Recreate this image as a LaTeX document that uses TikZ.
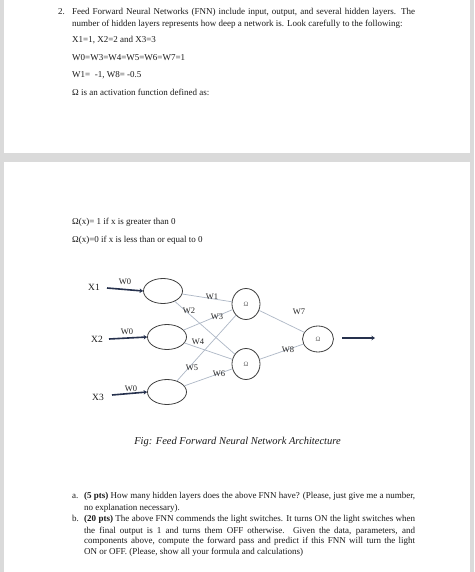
\documentclass[tikz,border=0pt]{standalone}
\usepackage{fontspec}
\setmainfont{Liberation Serif}
\usetikzlibrary{arrows.meta,shapes.geometric}
\definecolor{pagegrey}{HTML}{DADADA}
\definecolor{lineblue}{HTML}{AEB8C6}
\definecolor{navy}{HTML}{26314D}
\definecolor{ink}{HTML}{1A1A1A}
\begin{document}
\begin{tikzpicture}[x=1pt,y=-1pt,
  txt/.style={anchor=base west, inner sep=0pt, font=\fontsize{9}{12}\selectfont, text=ink},
  conn/.style={draw=lineblue, line width=0.7pt},
  inarr/.style={draw=navy, line width=1.6pt, -{Stealth[length=3.5pt,width=4.5pt]}},
  inode/.style={draw=black!75, line width=0.8pt, ellipse, minimum width=39pt, minimum height=25pt, inner sep=0pt},
  hnode/.style={draw=black!75, line width=0.8pt, ellipse, minimum width=28pt, minimum height=31pt, inner sep=0pt, font=\fontsize{6.5}{6.5}\selectfont, text=black!60},
  onode/.style={hnode, minimum width=31pt, minimum height=26pt},
  wlab/.style={inner sep=0pt, font=\fontsize{8.5}{8.5}\selectfont, text=black!85},
  xlab/.style={inner sep=0pt, font=\fontsize{9.5}{9.5}\selectfont, text=ink},
]
\useasboundingbox (0,0) rectangle (474,572);
\fill[pagegrey] (0,0) rectangle (474,572);
\fill[white] (4,0) rectangle (470,153);
\fill[white] (4,162) rectangle (470,572);

% top text
\node[txt] (n2) at (58,14.3) {2.};
\node[txt] (p1) at (72,14.3) {\makebox[343pt][s]{Feed Forward Neural Networks (FNN) include input, output, and several hidden layers. The}};
\node[txt] (p2) at (72,26.3) {number of hidden layers represents how deep a network is. Look carefully to the following:};
\node[txt] (p3) at (72,42.3) {X1=1, X2=2 and X3=3};
\node[txt] (p4) at (72,60.3) {W0=W3=W4=W5=W6=W7=1};
\node[txt] (p5) at (72,77.7) {W1=\ \ -1, W8= -0.5};
\node[txt] (p6) at (72,95.3) {Ω is an activation function defined as:};

\node[txt] (q1) at (72,224) {Ω(x)= 1 if x is greater than 0};
\node[txt] (q2) at (72,242.3) {Ω(x)=0 if x is less than or equal to 0};

% network
\node[inode] (e1) at (163,291) {};
\node[inode] (e2) at (167,337) {};
\node[inode] (e3) at (167,392) {};
\node[hnode] (h1) at (246,304) {Ω};
\node[hnode] (h2) at (246,364) {Ω};
\node[onode] (o) at (318,339) {Ω};

\node[xlab] (x1) at (94,287) {X1};
\node[xlab] (x2) at (97,339) {X2};
\node[xlab] (x3) at (98,397) {X3};
\coordinate (a1) at (107,288);
\coordinate (a2) at (109,339);
\coordinate (a3) at (112,395);
\draw[inarr] (a1) -- (e1.west);
\draw[inarr] (a2) -- (e2.west);
\draw[inarr] (a3) -- (e3.west);
\node[wlab] (w01) at (125,282) {W0};
\node[wlab] (w02) at (127,332) {W0};
\node[wlab] (w03) at (131,389) {W0};

\draw[conn] (e1) -- (h1);
\draw[conn] (e1) -- (h2);
\draw[conn] (e2) -- (h1);
\draw[conn] (e2) -- (h2);
\draw[conn] (e3) -- (h1);
\draw[conn] (e3) -- (h2);
\draw[conn] (h1) -- (o);
\draw[conn] (h2) -- (o);
\coordinate (ostart) at (342,338);
\coordinate (oend) at (375,338);
\draw[inarr] (ostart) -- (oend);

\node[wlab] (w1) at (212,297) {W1};
\node[wlab] (w2) at (189,311) {W2};
\node[wlab] (w3) at (217,317) {W3};
\node[wlab] (w4) at (198,342) {W4};
\node[wlab] (w5) at (192,368) {W5};
\node[wlab] (w6) at (219,374) {W6};
\node[wlab] (w7) at (299,312) {W7};
\node[wlab] (w8) at (288,350) {W8};

% caption
\node[anchor=base, inner sep=0pt, font=\fontsize{10.5}{12}\itshape, text=ink] (cap) at (237.5,444.5) {Fig: Feed Forward Neural Network Architecture};

% questions
\node[txt] (la) at (72,498) {a.};
\node[txt] (a1t) at (84,498) {\makebox[331pt][s]{\textbf{(5 pts)} How many hidden layers does the above FNN have? (Please, just give me a number,}};
\node[txt] (a2t) at (84,510.3) {no explanation necessary).};
\node[txt] (lb) at (72,521.7) {b.};
\node[txt] (b1t) at (84,521.7) {\makebox[331pt][s]{\textbf{(20 pts)} The above FNN commends the light switches. It turns ON the light switches when}};
\node[txt] (b2t) at (84,533) {\makebox[331pt][s]{the final output is 1 and turns them OFF otherwise. Given the data, parameters, and}};
\node[txt] (b3t) at (84,543.7) {\makebox[331pt][s]{components above, compute the forward pass and predict if this FNN will turn the light}};
\node[txt] (b4t) at (84,554) {ON or OFF. (Please, show all your formula and calculations)};
\end{tikzpicture}
\end{document}
